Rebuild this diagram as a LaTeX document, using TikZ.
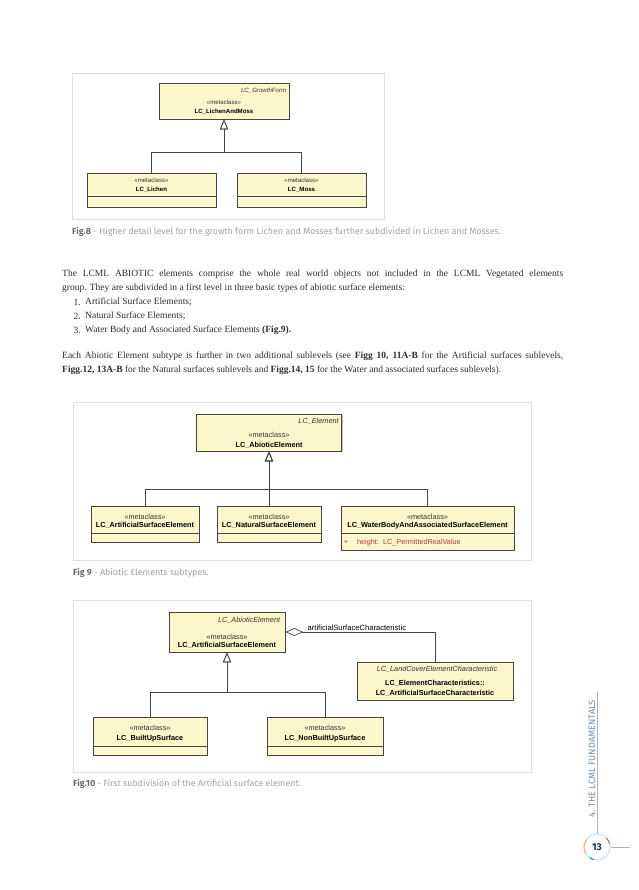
\documentclass[tikz,border=0pt]{standalone}
\usepackage{fontspec}
\setmainfont{Liberation Serif}
\newfontfamily\umlfont{Liberation Sans}
\newfontfamily\capfont{Fira Sans}
\usetikzlibrary{arrows.meta,calc,shadows}
\definecolor{classfill}{HTML}{FBF7CB}
\definecolor{classline}{HTML}{454545}
\definecolor{framegray}{HTML}{E0E0E0}
\definecolor{bodytext}{HTML}{2E2E2E}
\definecolor{capgray}{HTML}{A3A3A3}
\definecolor{capdark}{HTML}{6A6A6A}
\definecolor{attrred}{HTML}{B23A3A}
\definecolor{sideblue}{HTML}{7491AD}
\definecolor{pagenavy}{HTML}{1E3452}
\tikzset{
    >=Stealth,
    uml/.style={
        classbox/.append style={draw=classline,fill=classfill,line width=0.7pt,inner sep=0pt,
            drop shadow={shadow xshift=1.3pt,shadow yshift=-1.3pt,fill=black!55,opacity=0.45}},
        stereo/.append style={font=\umlfont\fontsize{#1}{#1}\selectfont,inner sep=0pt,text=black!80},
        cname/.append style={font=\umlfont\bfseries\fontsize{#1}{#1}\selectfont,inner sep=0pt,align=center},
        owner/.append style={font=\umlfont\itshape\fontsize{#1}{#1}\selectfont,inner sep=0pt,text=black!80},
        attr/.append style={font=\umlfont\fontsize{#1}{#1}\selectfont,inner sep=0pt,text=attrred},
        assoc/.append style={font=\umlfont\fontsize{7.6}{7.6}\selectfont,inner sep=1pt},
        inherit/.append style={draw=classline,line width=0.7pt,-{Triangle[open,length=10pt,width=8pt]}},
        aggregate/.append style={draw=classline,line width=0.7pt,{Diamond[open,length=18pt,width=8pt]}-}
    },
    figframe/.style={draw=framegray,line width=0.6pt},
    caption/.style={anchor=west,inner sep=0pt,text=capgray,font=\capfont\fontsize{8.9}{10}\selectfont},
    bodyline/.style={anchor=west,inner sep=0pt,text=bodytext,font=\fontsize{9.5}{12}\selectfont},
    sidetext/.style={inner sep=0pt,text=sideblue,font=\capfont\fontsize{9.2}{10}\selectfont},
    sideline/.style={draw=black!30,line width=0.5pt}
}
\newcommand{\figlabel}[1]{{\color{capdark}\bfseries #1}}

\begin{document}
\begin{tikzpicture}[x=1pt,y=-1pt]
    \useasboundingbox[fill=white] (0,0) rectangle (638,890);

    % Fig.8
    \begin{scope}[uml=6.1]
        \draw[figframe] (72,73) rectangle (384,219);
        \node[classbox,minimum width=130pt,minimum height=36pt] (lam) at (224,101) {};
        \node[owner,anchor=north east] at ($(lam.north east)+(-3,5)$) {LC\_GrowthForm};
        \node[stereo] at ($(lam.north)+(0,20)$) {«metaclass»};
        \node[cname] at ($(lam.north)+(0,29)$) {LC\_LichenAndMoss};

        \node[classbox,minimum width=129pt,minimum height=34pt] (lichen) at (151.5,190) {};
        \draw[classline,line width=0.6pt] ($(lichen.north west)+(0,24)$) -- ($(lichen.north east)+(0,24)$);
        \node[stereo] at ($(lichen.north)+(0,8)$) {«metaclass»};
        \node[cname] at ($(lichen.north)+(0,17)$) {LC\_Lichen};

        \node[classbox,minimum width=129pt,minimum height=34pt] (moss) at (301.5,190) {};
        \draw[classline,line width=0.6pt] ($(moss.north west)+(0,24)$) -- ($(moss.north east)+(0,24)$);
        \node[stereo] at ($(moss.north)+(0,8)$) {«metaclass»};
        \node[cname] at ($(moss.north)+(0,17)$) {LC\_Moss};

        \coordinate (j8) at (224,152);
        \draw[inherit] (lichen.north) |- (j8) -- (lam.south);
        \draw[inherit] (moss.north) |- (j8) -- (lam.south);
    \end{scope}
    \node[caption] (cap8) at (72,232) {\figlabel{Fig.8} - Higher detail level for the growth form Lichen and Mosses further subdivided in Lichen and Mosses.};

    % body text
    \node[bodyline] (t1) at (62,274) {\makebox[501pt][s]{The LCML ABIOTIC elements comprise the whole real world objects not included in the LCML Vegetated elements}};
    \node[bodyline] (t2) at (62,288) {group. They are subdivided in a first level in three basic types of abiotic surface elements:};
    \node[bodyline,anchor=east] (n1) at (81,302) {1.};
    \node[bodyline] (i1) at (85,302) {Artificial Surface Elements;};
    \node[bodyline,anchor=east] (n2) at (81,316) {2.};
    \node[bodyline] (i2) at (85,316) {Natural Surface Elements;};
    \node[bodyline,anchor=east] (n3) at (81,330) {3.};
    \node[bodyline] (i3) at (85,330) {Water Body and Associated Surface Elements \textbf{(Fig.9).}};
    \node[bodyline] (t6) at (62,356) {\makebox[501pt][s]{Each Abiotic Element subtype is further in two additional sublevels (see \textbf{Figg 10, 11A-B} for the Artificial surfaces sublevels,}};
    \node[bodyline] (t7) at (62,370) {\textbf{Figg.12, 13A-B} for the Natural surfaces sublevels and \textbf{Figg.14, 15} for the Water and associated surfaces sublevels).};

    % Fig 9
    \begin{scope}[uml=7.3]
        \draw[figframe] (73,402) rectangle (531,560);
        \node[classbox,minimum width=145pt,minimum height=37pt] (abio) at (269,432.5) {};
        \node[owner,anchor=north east] at ($(abio.north east)+(-3,4)$) {LC\_Element};
        \node[stereo] at ($(abio.north)+(0,21)$) {«metaclass»};
        \node[cname] at ($(abio.north)+(0,31.5)$) {LC\_AbioticElement};

        \node[classbox,minimum width=108pt,minimum height=36pt] (art) at (145,524) {};
        \draw[classline,line width=0.6pt] ($(art.north west)+(0,28)$) -- ($(art.north east)+(0,28)$);
        \node[stereo] at ($(art.north)+(0,11)$) {«metaclass»};
        \node[cname] at ($(art.north)+(0,20)$) {LC\_ArtificialSurfaceElement};

        \node[classbox,minimum width=104pt,minimum height=36pt] (nat) at (269,524) {};
        \draw[classline,line width=0.6pt] ($(nat.north west)+(0,28)$) -- ($(nat.north east)+(0,28)$);
        \node[stereo] at ($(nat.north)+(0,11)$) {«metaclass»};
        \node[cname] at ($(nat.north)+(0,20)$) {LC\_NaturalSurfaceElement};

        \node[classbox,minimum width=173pt,minimum height=44pt] (wat) at (427.5,528) {};
        \draw[classline,line width=0.6pt] ($(wat.north west)+(0,28)$) -- ($(wat.north east)+(0,28)$);
        \node[stereo] at ($(wat.north)+(0,11)$) {«metaclass»};
        \node[cname] at ($(wat.north)+(0,20)$) {LC\_WaterBodyAndAssociatedSurfaceElement};
        \node[attr,anchor=west] at ($(wat.north west)+(3,37)$) {+\hspace{9pt}height:\hspace{4pt}LC\_PermittedRealValue};

        \coordinate (j9) at (269,489);
        \draw[inherit] (art.north) |- (j9) -- (abio.south);
        \draw[inherit] (nat.north) -- (abio.south);
        \draw[inherit] (wat.north) |- (j9) -- (abio.south);
    \end{scope}
    \node[caption] (cap9) at (73,573) {\figlabel{Fig 9} - Abiotic Elements subtypes.};

    % Fig.10
    \begin{scope}[uml=7.3]
        \draw[figframe] (73,600) rectangle (531,772);
        \node[classbox,minimum width=116pt,minimum height=40pt] (ase) at (227,632) {};
        \node[owner,anchor=north east] at ($(ase.north east)+(-5,5)$) {LC\_AbioticElement};
        \node[stereo] at ($(ase.north)+(0,25)$) {«metaclass»};
        \node[cname] at ($(ase.north)+(0,34)$) {LC\_ArtificialSurfaceElement};

        \node[classbox,minimum width=156pt,minimum height=38pt] (char) at (435,681) {};
        \node[owner] at ($(char.north)+(2,8)$) {LC\_LandCoverElementCharacteristic};
        \node[cname] at ($(char.north)+(0,26.5)$) {LC\_ElementCharacteristics::\\[3pt]LC\_ArtificialSurfaceCharacteristic};

        \node[classbox,minimum width=114pt,minimum height=38pt] (bus) at (150,736) {};
        \draw[classline,line width=0.6pt] ($(bus.north west)+(0,30)$) -- ($(bus.north east)+(0,30)$);
        \node[stereo] at ($(bus.north)+(0,11)$) {«metaclass»};
        \node[cname] at ($(bus.north)+(0,22)$) {LC\_BuiltUpSurface};

        \node[classbox,minimum width=116pt,minimum height=38pt] (nbus) at (325,736) {};
        \draw[classline,line width=0.6pt] ($(nbus.north west)+(0,30)$) -- ($(nbus.north east)+(0,30)$);
        \node[stereo] at ($(nbus.north)+(0,11)$) {«metaclass»};
        \node[cname] at ($(nbus.north)+(0,22)$) {LC\_NonBuiltUpSurface};

        \coordinate (j10) at (227,692);
        \draw[inherit] (bus.north) |- (j10) -- (ase.south);
        \draw[inherit] (nbus.north) |- (j10) -- (ase.south);
        \draw[aggregate] (ase.east) -| node[assoc,pos=0.07,anchor=south west] {artificialSurfaceCharacteristic} (char.north);
    \end{scope}
    \node[caption] (cap10) at (73,784) {\figlabel{Fig.10} - First subdivision of the Artificial surface element.};

    % page side
    \node[sidetext,rotate=90,anchor=west] (side) at (592,818) {4. THE LCML FUNDAMENTALS};
    \node[circle,draw=cyan!25,line width=1.2pt,fill=white,minimum size=26pt,inner sep=0pt,
        font=\capfont\bfseries\fontsize{10}{10}\selectfont,text=pagenavy] (pg) at (597,847) {13};
    \draw[orange!60,line width=0.9pt] ([shift={(150:13)}]pg.center) arc (150:215:13);
    \draw[red!70,line width=0.9pt] ([shift={(-45:13)}]pg.center) arc (-45:-15:13);
    \draw[cyan!60!blue,line width=0.9pt] ([shift={(105:13)}]pg.center) arc (105:125:13);
    \coordinate (sidetop) at (597,692);
    \coordinate (pgright) at (630,847);
    \draw[sideline] (sidetop) -- (pg.north);
    \draw[sideline] (pg.east) -- (pgright);
\end{tikzpicture}
\end{document}
